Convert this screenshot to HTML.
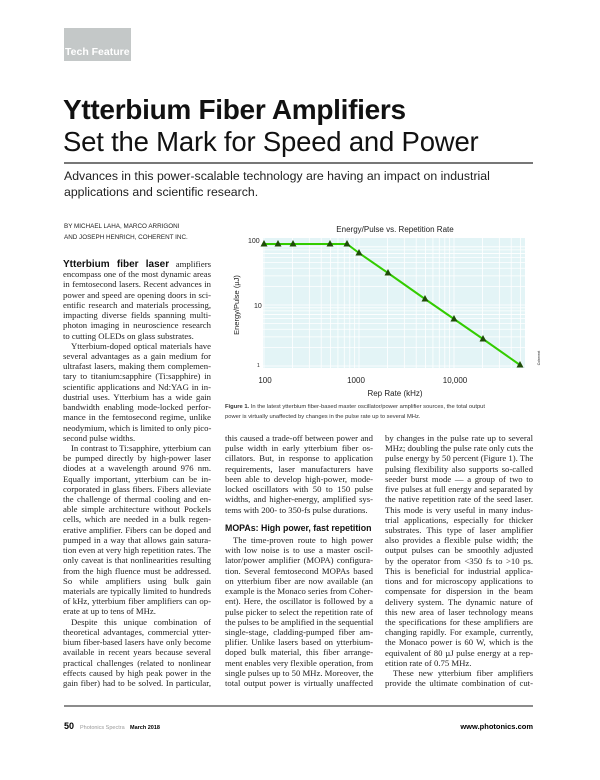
<!DOCTYPE html>
<html><head><meta charset="utf-8"><style>
*{margin:0;padding:0}
body{width:600px;height:780px;background:#fff;position:relative;overflow:hidden;font-family:"Liberation Sans",sans-serif;color:#111}
.a{position:absolute}
.col{position:absolute;width:148px;font-family:"Liberation Serif",serif;font-size:8.7px;line-height:10.22px;color:#222}
.col div{text-align:justify;text-align-last:justify;white-space:nowrap;height:10.22px;overflow:visible}
.col div.l{text-align-last:left}
.col div.i{text-indent:8px}
.sb{font-family:"Liberation Sans",sans-serif;font-weight:bold;font-size:10px;color:#111}
</style></head><body>
<div class="a" style="left:64px;top:28px;width:67px;height:33px;background:#c4c8c8"></div>
<div class="a" style="left:65px;top:46px;font-size:10.5px;font-weight:bold;color:#fff">Tech Feature</div>
<div class="a" style="left:63px;top:96px;font-size:28px;line-height:1;font-weight:bold;letter-spacing:-0.3px;white-space:nowrap">Ytterbium Fiber Amplifiers</div>
<div class="a" style="left:63px;top:128px;font-size:27.5px;line-height:1;letter-spacing:-0.2px;white-space:nowrap;color:#111">Set the Mark for Speed and Power</div>
<div class="a" style="left:64px;top:162px;width:469px;height:2px;background:#777"></div>
<div class="a" style="left:64px;top:169px;font-size:12.3px;line-height:15.5px;color:#222;white-space:nowrap">Advances in this power-scalable technology are having an impact on industrial<br>applications and scientific research.</div>
<div class="a" style="left:64px;top:220.5px;font-size:6.3px;line-height:11px;color:#222">BY MICHAEL LAHA, MARCO ARRIGONI<br>AND JOSEPH HENRICH, COHERENT INC.</div>

<svg class="a" style="left:0;top:0" width="600" height="780">
<text x="395" y="232" font-size="8" text-anchor="middle" font-family="Liberation Sans" fill="#222">Energy/Pulse vs. Repetition Rate</text>
<rect x="263" y="238" width="262" height="130" fill="#e3f4f6"/>
<g stroke="#fff" stroke-width="0.8" id="g"></g>
<polyline fill="none" stroke="#33cc00" stroke-width="2" points="264,244 347,244 359,253 388,273 425,299 454,319 483,339 520,365"/>
<g fill="#1e4d08" id="t"></g>
<g font-family="Liberation Sans" font-size="8" fill="#222">
<text x="265" y="383" text-anchor="middle">100</text>
<text x="356" y="383" text-anchor="middle">1000</text>
<text x="455" y="383" text-anchor="middle">10,000</text>
<text x="395" y="396" text-anchor="middle">Rep Rate (kHz)</text>
<text x="248" y="243" font-size="7">100</text>
<text x="254" y="308" font-size="7">10</text>
<text x="257" y="367" font-size="5">1</text>
<text transform="translate(239,305) rotate(-90)" text-anchor="middle" font-size="7.5">Energy/Pulse (µJ)</text>
<text transform="translate(540,358) rotate(-90)" text-anchor="middle" font-size="3.5">Coherent</text>
</g>
<text x="225" y="408" font-family="Liberation Sans" font-size="5.8" fill="#333"><tspan font-weight="bold">Figure 1.</tspan> In the latest ytterbium fiber-based master oscillator/power amplifier sources, the total output</text>
<text x="225" y="418" font-family="Liberation Sans" font-size="5.8" fill="#333">power is virtually unaffected by changes in the pulse rate up to several MHz.</text>
<line x1="64" y1="706" x2="533" y2="706" stroke="#666" stroke-width="1.5"/>
<text x="64" y="729" font-family="Liberation Sans" font-size="9" font-weight="bold">50</text>
<text x="80" y="729" font-family="Liberation Sans" font-size="5.5" fill="#999">Photonics Spectra</text>
<text x="130" y="729" font-family="Liberation Sans" font-size="5.5" font-weight="bold">March 2018</text>
<text x="533" y="729" font-family="Liberation Sans" font-size="7.5" font-weight="bold" text-anchor="end">www.photonics.com</text>
</svg>
<script>
(function(){var g=document.getElementById('g'),s='';var X=function(v){return 264+95*Math.log10(v/100)};var Y=function(v){return 244+61*(2-Math.log10(v))};
[100,1000,10000].forEach(function(d){for(var k=1;k<10;k++){var x=X(d*k);if(x<=525)s+='<line x1="'+x+'" y1="238" x2="'+x+'" y2="368"/>';}});
[1,10].forEach(function(d){for(var k=1;k<10;k++){var y=Y(d*k);s+='<line x1="263" y1="'+y+'" x2="525" y2="'+y+'"/>';}});
g.innerHTML=s;var t=document.getElementById('t'),p='';
[[264,244],[278,244],[293,244],[330,244],[347,244],[359,253],[388,273],[425,299],[454,319],[483,339],[520,365]].forEach(function(a){p+='<polygon points="'+a[0]+','+(a[1]-4)+' '+(a[0]-3.5)+','+(a[1]+2.5)+' '+(a[0]+3.5)+','+(a[1]+2.5)+'"/>';});
t.innerHTML=p;})();
</script>

<div class="col" style="left:63px;top:259px">
<div><span class="sb">Ytterbium fiber laser</span> amplifiers</div>
<div>encompass one of the most dynamic areas</div>
<div>in femtosecond lasers. Recent advances in</div>
<div>power and speed are opening doors in sci-</div>
<div>entific research and materials processing,</div>
<div>impacting diverse fields spanning multi-</div>
<div>photon imaging in neuroscience research</div>
<div class="l">to cutting OLEDs on glass substrates.</div>
<div class="i">Ytterbium-doped optical materials have</div>
<div>several advantages as a gain medium for</div>
<div>ultrafast lasers, making them complemen-</div>
<div>tary to titanium:sapphire (Ti:sapphire) in</div>
<div>scientific applications and Nd:YAG in in-</div>
<div>dustrial uses. Ytterbium has a wide gain</div>
<div>bandwidth enabling mode-locked perfor-</div>
<div>mance in the femtosecond regime, unlike</div>
<div>neodymium, which is limited to only pico-</div>
<div class="l">second pulse widths.</div>
<div class="i">In contrast to Ti:sapphire, ytterbium can</div>
<div>be pumped directly by high-power laser</div>
<div>diodes at a wavelength around 976 nm.</div>
<div>Equally important, ytterbium can be in-</div>
<div>corporated in glass fibers. Fibers alleviate</div>
<div>the challenge of thermal cooling and en-</div>
<div>able simple architecture without Pockels</div>
<div>cells, which are needed in a bulk regen-</div>
<div>erative amplifier. Fibers can be doped and</div>
<div>pumped in a way that allows gain satura-</div>
<div>tion even at very high repetition rates. The</div>
<div>only caveat is that nonlinearities resulting</div>
<div>from the high fluence must be addressed.</div>
<div>So while amplifiers using bulk gain</div>
<div>materials are typically limited to hundreds</div>
<div>of kHz, ytterbium fiber amplifiers can op-</div>
<div class="l">erate at up to tens of MHz.</div>
<div class="i">Despite this unique combination of</div>
<div>theoretical advantages, commercial ytter-</div>
<div>bium fiber-based lasers have only become</div>
<div>available in recent years because several</div>
<div>practical challenges (related to nonlinear</div>
<div>effects caused by high peak power in the</div>
<div>gain fiber) had to be solved. In particular,</div>
</div>

<div class="col" style="left:225px;top:433px">
<div>this caused a trade-off between power and</div>
<div>pulse width in early ytterbium fiber os-</div>
<div>cillators. But, in response to application</div>
<div>requirements, laser manufacturers have</div>
<div>been able to develop high-power, mode-</div>
<div>locked oscillators with 50 to 150 pulse</div>
<div>widths, and higher-energy, amplified sys-</div>
<div class="l">tems with 200- to 350-fs pulse durations.</div>
</div>
<div class="a sb" style="left:225px;top:523px;font-size:8.8px">MOPAs: High power, fast repetition</div>
<div class="col" style="left:225px;top:535px">
<div class="i">The time-proven route to high power</div>
<div>with low noise is to use a master oscil-</div>
<div>lator/power amplifier (MOPA) configura-</div>
<div>tion. Several femtosecond MOPAs based</div>
<div>on ytterbium fiber are now available (an</div>
<div>example is the Monaco series from Coher-</div>
<div>ent). Here, the oscillator is followed by a</div>
<div>pulse picker to select the repetition rate of</div>
<div>the pulses to be amplified in the sequential</div>
<div>single-stage, cladding-pumped fiber am-</div>
<div>plifier. Unlike lasers based on ytterbium-</div>
<div>doped bulk material, this fiber arrange-</div>
<div>ment enables very flexible operation, from</div>
<div>single pulses up to 50 MHz. Moreover, the</div>
<div>total output power is virtually unaffected</div>
</div>

<div class="col" style="left:385px;top:433px">
<div>by changes in the pulse rate up to several</div>
<div>MHz; doubling the pulse rate only cuts the</div>
<div>pulse energy by 50 percent (Figure 1). The</div>
<div>pulsing flexibility also supports so-called</div>
<div>seeder burst mode — a group of two to</div>
<div>five pulses at full energy and separated by</div>
<div>the native repetition rate of the seed laser.</div>
<div>This mode is very useful in many indus-</div>
<div>trial applications, especially for thicker</div>
<div>substrates. This type of laser amplifier</div>
<div>also provides a flexible pulse width; the</div>
<div>output pulses can be smoothly adjusted</div>
<div>by the operator from &lt;350 fs to &gt;10 ps.</div>
<div>This is beneficial for industrial applica-</div>
<div>tions and for microscopy applications to</div>
<div>compensate for dispersion in the beam</div>
<div>delivery system. The dynamic nature of</div>
<div>this new area of laser technology means</div>
<div>the specifications for these amplifiers are</div>
<div>changing rapidly. For example, currently,</div>
<div>the Monaco power is 60 W, which is the</div>
<div>equivalent of 80 µJ pulse energy at a rep-</div>
<div class="l">etition rate of 0.75 MHz.</div>
<div class="i">These new ytterbium fiber amplifiers</div>
<div>provide the ultimate combination of cut-</div>
</div>
</body></html>
